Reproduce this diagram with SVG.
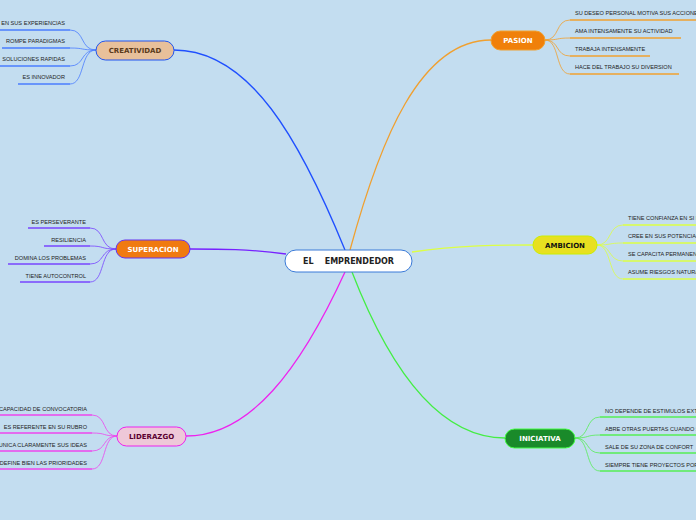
<svg xmlns="http://www.w3.org/2000/svg" width="696" height="520" viewBox="0 0 696 520">
<style>
.t{font-family:"Liberation Sans",Arial,sans-serif;font-size:5.6px;fill:#222}
.r{text-anchor:end}
.n{font-family:"DejaVu Sans",sans-serif;font-size:7px;font-weight:bold;text-anchor:middle}
.c{fill:none;stroke-width:1.3}
.s{fill:none;stroke-width:0.8}
.u{stroke-width:1.6}
</style>
<rect width="696" height="520" fill="#c3ddf0"/>
<g id="connectors">
<path class="c" stroke="#1f4fff" d="M345,250 C300,140 250,50 174,50"/>
<path class="c" stroke="#f0a030" d="M350,250 C380,140 420,40 491,40"/>
<path class="c" stroke="#7722ff" d="M286,254 C250,249 220,249 190,249"/>
<path class="c" stroke="#ddff44" d="M412,252 C460,245 500,245 533,245"/>
<path class="c" stroke="#ee22ee" d="M345,272 C300,370 250,436 186,436"/>
<path class="c" stroke="#44ee44" d="M352,272 C390,370 440,438 505,438"/>
<g stroke="#4a7cff">
<path class="s" d="M96,50 C80,50 85,30 70,30"/><path class="s" d="M96,50 C80,50 85,48 70,48"/><path class="s" d="M96,50 C80,50 85,66 70,66"/><path class="s" d="M96,50 C80,50 85,84 70,84"/>
<line class="u" x1="0" y1="30" x2="70" y2="30"/><line class="u" x1="2" y1="48" x2="70" y2="48"/><line class="u" x1="0" y1="66" x2="70" y2="66"/><line class="u" x1="18" y1="84" x2="70" y2="84"/>
</g>
<g stroke="#f0a030">
<path class="s" d="M545,40 C560,40 555,20 570,20"/><path class="s" d="M545,40 C560,40 555,38 570,38"/><path class="s" d="M545,40 C560,40 555,56 570,56"/><path class="s" d="M545,40 C560,40 555,74 570,74"/>
<line class="u" x1="570" y1="20" x2="696" y2="20"/><line class="u" x1="570" y1="38" x2="681" y2="38"/><line class="u" x1="570" y1="56" x2="650" y2="56"/><line class="u" x1="570" y1="74" x2="679" y2="74"/>
</g>
<g stroke="#ddff44">
<path class="s" d="M597,245 C612,245 608,225 623,225"/><path class="s" d="M597,245 C612,245 608,243 623,243"/><path class="s" d="M597,245 C612,245 608,261 623,261"/><path class="s" d="M597,245 C612,245 608,279 623,279"/>
<line class="u" x1="623" y1="225" x2="696" y2="225"/><line class="u" x1="623" y1="243" x2="696" y2="243"/><line class="u" x1="623" y1="261" x2="696" y2="261"/><line class="u" x1="623" y1="279" x2="696" y2="279"/>
</g>
<g stroke="#7744ff">
<path class="s" d="M116,249 C100,249 105,228 90,228"/><path class="s" d="M116,249 C100,249 105,246 90,246"/><path class="s" d="M116,249 C100,249 105,264 90,264"/><path class="s" d="M116,249 C100,249 105,282 90,282"/>
<line class="u" x1="28" y1="228" x2="90" y2="228"/><line class="u" x1="44" y1="246" x2="90" y2="246"/><line class="u" x1="8" y1="264" x2="90" y2="264"/><line class="u" x1="20" y1="282" x2="90" y2="282"/>
</g>
<g stroke="#ee44ee">
<path class="s" d="M117,436 C102,436 107,415 92,415"/><path class="s" d="M117,436 C102,436 107,433 92,433"/><path class="s" d="M117,436 C102,436 107,451 92,451"/><path class="s" d="M117,436 C102,436 107,469 92,469"/>
<line class="u" x1="0" y1="415" x2="92" y2="415"/><line class="u" x1="0" y1="433" x2="92" y2="433"/><line class="u" x1="0" y1="451" x2="92" y2="451"/><line class="u" x1="0" y1="469" x2="92" y2="469"/>
</g>
<g stroke="#55ee55">
<path class="s" d="M575,438 C590,438 585,417 600,417"/><path class="s" d="M575,438 C590,438 585,435 600,435"/><path class="s" d="M575,438 C590,438 585,453 600,453"/><path class="s" d="M575,438 C590,438 585,471 600,471"/>
<line class="u" x1="600" y1="417" x2="696" y2="417"/><line class="u" x1="600" y1="435" x2="696" y2="435"/><line class="u" x1="600" y1="453" x2="696" y2="453"/><line class="u" x1="600" y1="471" x2="696" y2="471"/>
</g>
</g>
<g id="center"><rect x="285" y="250" width="127" height="22" rx="11" fill="#fff" stroke="#3a7ad8"/><text x="348.5" y="264" class="n" style="font-size:8px" fill="#222" xml:space="preserve">EL    EMPRENDEDOR</text></g>
<g id="creatividad"><rect x="96" y="41" width="78" height="19" rx="9.5" fill="#e8c09a" stroke="#2255ee"/><text x="135" y="53" class="n" fill="#5a3a1a">CREATIVIDAD</text>
<text class="t r" x="65" y="25">EN SUS EXPERIENCIAS</text><text class="t r" x="65" y="43">ROMPE PARADIGMAS</text><text class="t r" x="65" y="61">SOLUCIONES RAPIDAS</text><text class="t r" x="65" y="79">ES INNOVADOR</text></g>
<g id="pasion"><rect x="491" y="31" width="54" height="19" rx="9.5" fill="#f0800a" stroke="#f0a030"/><text x="518" y="43" class="n" fill="#fff">PASION</text>
<text class="t" x="575" y="15">SU DESEO PERSONAL MOTIVA SUS ACCIONES</text><text class="t" x="575" y="33">AMA INTENSAMENTE SU ACTIVIDAD</text><text class="t" x="575" y="51">TRABAJA INTENSAMENTE</text><text class="t" x="575" y="69">HACE DEL TRABAJO SU DIVERSION</text></g>
<g id="ambicion"><rect x="533" y="236" width="64" height="18" rx="9" fill="#e8e020" stroke="#ccee00"/><text x="565" y="248" class="n" fill="#111">AMBICION</text>
<text class="t" x="628" y="220">TIENE CONFIANZA EN SI MISMO</text><text class="t" x="628" y="238">CREE EN SUS POTENCIALIDADES</text><text class="t" x="628" y="256">SE CAPACITA PERMANENTEMENTE</text><text class="t" x="628" y="274">ASUME RIESGOS NATURALES</text></g>
<g id="superacion"><rect x="116" y="240" width="74" height="18" rx="9" fill="#f07a10" stroke="#6633ee"/><text x="153" y="252" class="n" fill="#fff">SUPERACION</text>
<text class="t r" x="86" y="224">ES PERSEVERANTE</text><text class="t r" x="86" y="242">RESILIENCIA</text><text class="t r" x="86" y="260">DOMINA LOS PROBLEMAS</text><text class="t r" x="86" y="278">TIENE AUTOCONTROL</text></g>
<g id="liderazgo"><rect x="117" y="427" width="69" height="19" rx="9.5" fill="#eec8d8" stroke="#ee22ee"/><text x="151.5" y="439" class="n" fill="#5a0030">LIDERAZGO</text>
<text class="t r" x="87" y="411">CAPACIDAD DE CONVOCATORIA</text><text class="t r" x="87" y="429">ES REFERENTE EN SU RUBRO</text><text class="t r" x="87" y="447">COMUNICA CLARAMENTE SUS IDEAS</text><text class="t r" x="87" y="465">DEFINE BIEN LAS PRIORIDADES</text></g>
<g id="iniciativa"><rect x="505" y="429" width="70" height="19" rx="9.5" fill="#1a8a2a" stroke="#44ff44"/><text x="540" y="441" class="n" fill="#fff">INICIATIVA</text>
<text class="t" x="605" y="413">NO DEPENDE DE ESTIMULOS EXTERNOS</text><text class="t" x="605" y="431">ABRE OTRAS PUERTAS CUANDO SE CIERRAN</text><text class="t" x="605" y="449">SALE DE SU ZONA DE CONFORT</text><text class="t" x="605" y="467">SIEMPRE TIENE PROYECTOS POR HACER</text></g>
</svg>
